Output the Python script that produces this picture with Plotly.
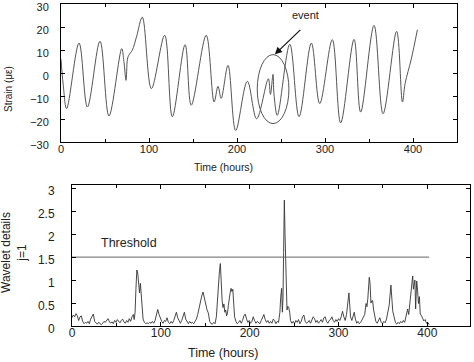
import plotly.graph_objects as go

# ---- data: strain record (top) ----
strain_hours = [0, 2.5, 6.4, 20.5, 30, 44.3, 54.5, 69, 71.5, 73.9, 75.5, 77, 81, 86, 92.4,
                102.7, 117.8, 126.5, 141, 148, 165, 174, 178.4, 182, 189.8, 198.5,
                211.7, 222.3, 235.6, 238, 240.9, 242, 245.8, 260, 270.5, 284.5, 294,
                308.3, 317.8, 333, 340.5, 355.7, 366, 381.4, 388, 391, 398, 405]
strain_values = [6, -5, -15.5, 13, -14.8, 13.8, -18.7, 10.6, 5, -3.2, 6, 7.7, 9.9, 16, 24.3,
                 -6.8, 16.4, -19, 12.3, -14, 16.4, -12.6, -5.8, -11, 3.3, -25,
                 -3.6, -19.9, -2.5, -9.3, -0.6, -9, -18.4, 12.5, -19, 13, -13.3,
                 14.5, -21.7, 14.6, -17, 20.7, -17.7, 18.1, -12.6, -4.6, 6, 18.8]

# ---- data: wavelet details j=1 (bottom) ----
wav_hours = [0, 1.5, 3, 4.5, 6, 7.5, 9, 10.5, 12, 13.5, 15, 16.5, 18, 19.5, 21, 22.5, 24, 25.5,
             27, 28.5, 30, 31.5, 33, 34.5, 36, 37.5, 39, 40.5, 42, 43.5, 45, 46.5, 48, 49.5,
             51, 52.5, 54, 55.5, 57, 58.5, 60, 61.5, 63, 64.5, 66, 67.5, 69, 70, 71, 72, 73,
             74, 75, 76, 77, 78, 79, 80, 81.5, 83, 84.5, 86, 87.5, 89, 90.5, 92, 93.5, 95,
             96.5, 98, 99.5, 101, 102.5, 104, 105.5, 107, 108.5, 110, 111.5, 113, 114.5, 116,
             117.5, 119, 120.5, 122, 123.5, 125, 126.5, 128, 129.5, 131, 132.5, 134, 135.5,
             137, 138.5, 140, 141.5, 143, 144.5, 146, 147.5, 149, 150.5, 152, 153.5, 155,
             156.5, 158, 159.5, 161, 162.5, 163.5, 164.5, 166, 167, 168, 169, 170, 171, 172,
             173, 174, 175, 176, 177, 178, 179, 180, 181, 182, 183, 184.5, 186, 187.5, 189,
             190.5, 192, 193.5, 195, 196.5, 198, 199.5, 201, 202.5, 204, 205.5, 207, 208.5,
             210, 211.5, 213, 214.5, 216, 217.5, 219, 220.5, 222, 223.5, 225, 226.5, 228,
             229.5, 231, 232.5, 234, 235, 236, 236.8, 237.5, 238.2, 239, 239.8, 240.6, 241.3,
             242, 243, 244, 245, 246, 247.5, 249, 250.5, 252, 253.5, 255, 256.5, 258, 259.5,
             261, 262.5, 264, 265.5, 267, 268.5, 270, 271.5, 273, 274.5, 276, 277.5, 279,
             280.5, 282, 283.5, 285, 286.5, 288, 289.5, 291, 292.5, 294, 295.5, 297, 298.5,
             300, 301.5, 303, 304.5, 306, 307.5, 309, 310, 311.7, 312.5, 313.5, 315, 316.5,
             317.7, 319, 320.5, 322, 323.5, 325, 326.5, 328, 329.5, 331, 332, 333, 334.6,
             335.5, 336.5, 337.5, 338.4, 339.5, 340.5, 342, 343.5, 345, 346.5, 348, 349.5,
             351, 352.5, 354, 355.5, 357, 359, 360, 361, 362.5, 364, 365.5, 367, 368.5, 370,
             371.5, 373, 374.5, 376, 377.8, 379, 380, 381.6, 382.5, 383.5, 384.3, 385, 386,
             386.8, 387.5, 388, 389, 390, 391, 392, 393.5, 395, 396, 397.5, 399, 400.5, 402]
wav_values = [0.18, 0.24, 0.2, 0.27, 0.22, 0.12, 0.2, 0.22, 0.1, 0.05, 0.08, 0.06, 0.1, 0.05,
              0.15, 0.22, 0.26, 0.1, 0.06, 0.04, 0.08, 0.05, 0.03, 0.06, 0.1, 0.08, 0.12, 0.16,
              0.1, 0.06, 0.09, 0.05, 0.12, 0.08, 0.14, 0.1, 0.07, 0.12, 0.15, 0.09, 0.06, 0.12,
              0.08, 0.16, 0.1, 0.2, 0.25, 0.14, 0.3, 0.82, 1.22, 1.15, 0.9, 0.72, 0.93, 0.6,
              0.4, 0.15, 0.08, 0.05, 0.07, 0.05, 0.08, 0.06, 0.1, 0.06, 0.12, 0.22, 0.36,
              0.25, 0.15, 0.1, 0.06, 0.12, 0.1, 0.18, 0.08, 0.05, 0.1, 0.06, 0.12, 0.2, 0.3,
              0.18, 0.1, 0.06, 0.12, 0.2, 0.3, 0.15, 0.08, 0.05, 0.1, 0.06, 0.08, 0.05, 0.1,
              0.15, 0.25, 0.4, 0.5, 0.65, 0.74, 0.6, 0.5, 0.35, 0.28, 0.1, 0.05, 0.04, 0.08,
              0.05, 0.2, 0.5, 0.93, 1.2, 1.36, 0.9, 0.55, 0.4, 0.48, 0.3, 0.35, 0.22, 0.28,
              0.45, 0.64, 0.72, 0.82, 0.75, 0.8, 0.5, 0.2, 0.1, 0.05, 0.08, 0.12, 0.06, 0.12,
              0.22, 0.26, 0.15, 0.08, 0.12, 0.06, 0.1, 0.2, 0.12, 0.06, 0.1, 0.08, 0.05, 0.12,
              0.18, 0.25, 0.14, 0.08, 0.12, 0.06, 0.1, 0.06, 0.15, 0.12, 0.05, 0.1, 0.08, 0.3,
              0.65, 0.82, 0.3, 0.6, 1.6, 2.74, 2.0, 1.5, 0.6, 0.35, 0.43, 0.4, 0.3, 0.12, 0.06,
              0.1, 0.05, 0.12, 0.08, 0.14, 0.05, 0.1, 0.2, 0.24, 0.1, 0.06, 0.08, 0.12, 0.06,
              0.15, 0.2, 0.16, 0.08, 0.12, 0.06, 0.1, 0.14, 0.08, 0.18, 0.2, 0.1, 0.06, 0.12,
              0.14, 0.2, 0.12, 0.08, 0.14, 0.1, 0.16, 0.12, 0.2, 0.32, 0.2, 0.12, 0.25, 0.45,
              0.72, 0.5, 0.2, 0.12, 0.22, 0.3, 0.15, 0.06, 0.1, 0.05, 0.08, 0.14, 0.2, 0.25,
              0.49, 0.42, 0.6, 1.06, 0.93, 0.5, 0.55, 0.55, 0.35, 0.2, 0.1, 0.06, 0.12, 0.18,
              0.08, 0.05, 0.1, 0.07, 0.15, 0.3, 0.45, 0.89, 0.6, 0.33, 0.2, 0.08, 0.04, 0.08,
              0.05, 0.1, 0.07, 0.12, 0.08, 0.2, 0.37, 0.25, 0.45, 0.78, 0.9, 1.09, 0.8, 0.9,
              1.0, 0.37, 0.7, 0.98, 0.78, 0.49, 0.64, 0.26, 0.22, 0.15, 0.11, 0.14, 0.06, 0.08,
              0.03]

threshold_value = 1.5
threshold_span = [0, 402]

W, H = 474, 362
FONT = "Liberation Sans, Arial, sans-serif"

def px(x):
    return x / W

def py(y):
    return 1 - y / H

fig = go.Figure()
fig.add_trace(go.Scatter(x=strain_hours, y=strain_values, mode="lines",
                         line=dict(color="#555555", width=1, shape="spline", smoothing=1.0),
                         xaxis="x", yaxis="y", showlegend=False))
fig.add_trace(go.Scatter(x=wav_hours, y=wav_values, mode="lines",
                         line=dict(color="#333333", width=0.9),
                         xaxis="x2", yaxis="y2", showlegend=False))
fig.add_trace(go.Scatter(x=threshold_span, y=[threshold_value] * 2, mode="lines",
                         line=dict(color="#666666", width=1),
                         xaxis="x2", yaxis="y2", showlegend=False))

def axis_style(size):
    return dict(showline=True, linecolor="black", linewidth=1, mirror="ticks",
                ticks="inside", ticklen=4, tickcolor="black", showgrid=False,
                zeroline=False, automargin=False,
                tickfont=dict(family=FONT, size=size, color="#222222"))

fig.update_layout(
    template="none",
    width=W, height=H, margin=dict(l=0, r=0, t=0, b=0, autoexpand=False),
    paper_bgcolor="white", plot_bgcolor="white",
    font=dict(family=FONT, color="#222222"),
    xaxis=dict(domain=[px(61), px(457)], range=[0, 450], dtick=100, anchor="y",
               ticklabelstandoff=-3,
               minor=dict(dtick=50, ticks="inside", ticklen=3, tickcolor="black"),
               **axis_style(11)),
    yaxis=dict(domain=[py(142), py(4)], range=[-30, 30], dtick=10, anchor="x",
               ticklabelstandoff=9, ticklabelshift=3, **axis_style(11)),
    xaxis2=dict(domain=[px(72), px(470)], range=[0, 448], dtick=100, anchor="y2",
                ticklabelstandoff=-4,
                minor=dict(dtick=50, ticks="inside", ticklen=3, tickcolor="black"),
                **axis_style(12)),
    yaxis2=dict(domain=[py(326), py(185)], range=[0, 3.07], dtick=0.5, anchor="x2",
                ticklabelstandoff=14, ticklabelshift=3, **axis_style(12)),
)

# event circle and arrow
fig.add_shape(type="circle", xref="x", yref="y", x0=223, x1=259, y0=-22, y1=8,
              line=dict(color="#555555", width=1))
fig.add_annotation(xref="x", yref="y", x=243, y=8.1, text="", showarrow=True,
                   ax=27, ay=-26, arrowhead=2, arrowsize=1.2, arrowwidth=1.2,
                   arrowcolor="#111111")

def label(x, y, text, size, angle=0):
    fig.add_annotation(xref="paper", yref="paper", x=px(x), y=py(y), text=text,
                       xanchor="center", yanchor="middle", textangle=angle,
                       showarrow=False, font=dict(family=FONT, size=size, color="#222222"))

label(305, 15, "event", 11)
fig.add_annotation(xref="x2", yref="y2", x=30, y=1.8, text="Threshold", xanchor="left",
                   yanchor="middle", showarrow=False,
                   font=dict(family=FONT, size=12.5, color="#222222"))

# axis titles
label(223, 167, "Time (hours)", 10.5)
label(223, 353, "Time (hours)", 12.5)
label(8, 89, "Strain (με)", 10, -90)
label(14, 253, "Wavelet details<br>j=1", 12, -90)

fig.write_html("out.html", config={"displayModeBar": False},
               post_script="document.body.style.margin='0';")
